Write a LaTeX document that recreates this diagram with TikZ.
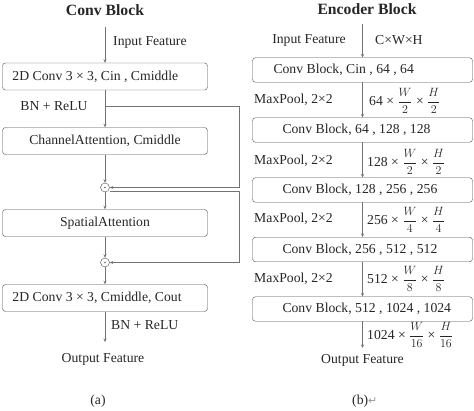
\documentclass[tikz,border=0pt]{standalone}
\usepackage{fontspec}
\setmainfont{Liberation Serif}
\newfontfamily\arrowfont{DejaVu Sans}
\usetikzlibrary{positioning}
\usetikzlibrary{arrows.meta}
\tikzset{blk/.style={draw=black!70, rounded corners=3pt, minimum width=205pt, minimum height=27pt, inner sep=0pt},
	%encoder blocks are wider and a bit lower
	eblk/.style={blk, minimum width=220pt, minimum height=24.5pt},
	lbl/.style={inner sep=0pt},
	flow/.style={->, draw=black!55, line width=0.6pt},
	mult/.style={circle, draw=black!70, minimum size=9pt, inner sep=0pt},
	ttl/.style={font=\fontsize{15.7}{18}\selectfont\bfseries}}
%small upright fraction for the feature sizes
\newcommand{\dimfrac}[2]{{\fontsize{12.5}{14}\selectfont$\displaystyle\frac{#1}{#2}$}}

\begin{document}
\begin{tikzpicture}[x=1pt, y=-1pt, font=\fontsize{13.7}{16}\selectfont, text=black!85,
		>={Stealth[length=3.5pt,width=3pt]}]
	\useasboundingbox (0,0) rectangle (474,410);
	%% (a) conv block
	\node[ttl] (ttla) at (105,10) {Conv Block};
	\coordinate (ina) at (105,27);
	\node[lbl, anchor=west] (infa) at (113,42) {Input Feature};
	\node[blk] (b1) at (105,76.5) {};
	\node[lbl, right=10pt of b1.west] {2D Conv 3 × 3, Cin , Cmiddle};
	\node[lbl] (bn1) at (54,106) {BN + ReLU};
	\node[blk] (b2) at (105,141) {ChannelAttention, Cmiddle};
	\node[mult] (c1) at (105,187.5) {};
	\node[blk] (b3) at (105,223) {SpatialAttention};
	\node[mult] (c2) at (105,262.5) {};
	\node[blk] (b4) at (105,298) {};
	\node[lbl, right=10pt of b4.west] {2D Conv 3 × 3, Cmiddle, Cout};
	\node[lbl, anchor=west] (bn2) at (111,325) {BN + ReLU};
	\coordinate (outa) at (105,342);
	\node[lbl] (outfa) at (103,359) {Output Feature};
	\node[lbl] (capa) at (98,401) {(a)};
	\fill[black!60] (c1) circle (0.9pt);
	\fill[black!60] (c2) circle (0.9pt);
	\draw[flow] (ina) -- (b1);
	\draw[flow] (b1) -- (b2);
	\draw[flow] (b2) -- (c1);
	\draw[flow] (c1) -- (b3);
	\draw[flow] (b3) -- (c2);
	\draw[flow] (c2) -- (b4);
	\draw[flow] (b4) -- (outa);
	% skip connections
	\coordinate (s1) at (105,106);
	\coordinate (r1) at (239,106);
	\coordinate (r2) at (239,262.5);
	\draw[flow] (s1) -- (r1) |- (c1);
	\draw[flow] ([yshift=-3.5pt]c1.east) -| (r2) -- (c2);

	%% (b) encoder block
	\node[ttl] (ttlb) at (367,9) {Encoder Block};
	\coordinate (inb) at (362.5,24);
	\node[lbl] (infb) at (309,40) {Input Feature};
	\node[lbl, anchor=west] (dim0) at (375,40) {C×W×H};
	\node[eblk] (e1) at (362.5,70) {};
	\node[lbl, right=21pt of e1.west] {Conv Block, Cin , 64 , 64};
	\node[lbl] (mp1) at (293.5,100) {MaxPool, 2×2};
	\node[lbl, anchor=west] (dim1) at (369,101) {64 × \dimfrac{W}{2} × \dimfrac{H}{2}};
	\node[eblk] (e2) at (362.5,130) {};
	\node[lbl, right=30pt of e2.west] {Conv Block, 64 , 128 , 128};
	\node[lbl] (mp2) at (293.5,161) {MaxPool, 2×2};
	\node[lbl, anchor=west] (dim2) at (367,162) {128 × \dimfrac{W}{2} × \dimfrac{H}{2}};
	\node[eblk] (e3) at (362.5,190) {};
	\node[lbl, right=30pt of e3.west] {Conv Block, 128 , 256 , 256};
	\node[lbl] (mp3) at (293.5,219) {MaxPool, 2×2};
	\node[lbl, anchor=west] (dim3) at (367,220) {256 × \dimfrac{W}{4} × \dimfrac{H}{4}};
	\node[eblk] (e4) at (362.5,249.5) {};
	\node[lbl, right=30pt of e4.west] {Conv Block, 256 , 512 , 512};
	\node[lbl] (mp4) at (293.5,279) {MaxPool, 2×2};
	\node[lbl, anchor=west] (dim4) at (367,279) {512 × \dimfrac{W}{8} × \dimfrac{H}{8}};
	\node[eblk] (e5) at (362.5,309) {};
	\node[lbl, right=30pt of e5.west] {Conv Block, 512 , 1024 , 1024};
	\node[lbl, anchor=west] (dim5) at (367,335) {1024 × \dimfrac{W}{16} × \dimfrac{H}{16}};
	\coordinate (outb) at (362.5,348);
	\node[lbl] (outfb) at (362.5,360) {Output Feature};
	\node[lbl, anchor=west] (capb) at (352,401) {(b)\textcolor{black!40}{\arrowfont\fontsize{11}{12}\selectfont ↵}};
	\draw[flow] (inb) -- (e1);
	\draw[flow] (e1) -- (e2);
	\draw[flow] (e2) -- (e3);
	\draw[flow] (e3) -- (e4);
	\draw[flow] (e4) -- (e5);
	\draw[flow] (e5) -- (outb);
\end{tikzpicture}
\end{document}
